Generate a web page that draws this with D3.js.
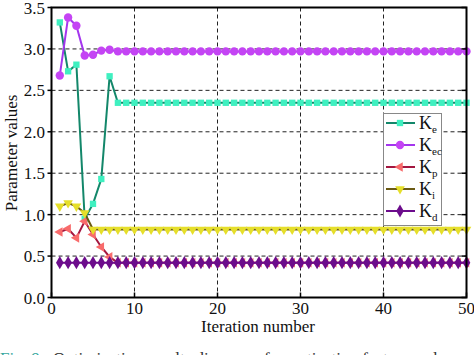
<!DOCTYPE html>
<html><head><meta charset="utf-8">
<script src="https://cdn.jsdelivr.net/npm/d3@7"></script>
<style>
html,body{margin:0;padding:0;background:#fff;}
svg{display:block;}
text{font-family:"Liberation Serif","Times New Roman",Times,serif;}
</style></head>
<body>
<svg id="chart" width="474" height="355"></svg>
<script>
const iterations = [1,2,3,4,5,6,7,8,9,10,11,12,13,14,15,16,17,18,19,20,21,22,23,24,25,26,27,28,29,30,31,32,33,34,35,36,37,38,39,40,41,42,43,44,45,46,47,48,49,50];
const Ke  = [3.32,2.73,2.81,0.95,1.13,1.43,2.67,2.35,2.35,2.35,2.35,2.35,2.35,2.35,2.35,2.35,2.35,2.35,2.35,2.35,2.35,2.35,2.35,2.35,2.35,2.35,2.35,2.35,2.35,2.35,2.35,2.35,2.35,2.35,2.35,2.35,2.35,2.35,2.35,2.35,2.35,2.35,2.35,2.35,2.35,2.35,2.35,2.35,2.35,2.35];
const Kec = [2.68,3.38,3.28,2.92,2.93,2.98,2.99,2.97,2.97,2.97,2.97,2.97,2.97,2.97,2.97,2.97,2.97,2.97,2.97,2.97,2.97,2.97,2.97,2.97,2.97,2.97,2.97,2.97,2.97,2.97,2.97,2.97,2.97,2.97,2.97,2.97,2.97,2.97,2.97,2.97,2.97,2.97,2.97,2.97,2.97,2.97,2.97,2.97,2.97,2.97];
const Kp  = [0.79,0.83,0.72,0.92,0.76,0.61,0.49,0.42,0.42,0.42,0.42,0.42,0.42,0.42,0.42,0.42,0.42,0.42,0.42,0.42,0.42,0.42,0.42,0.42,0.42,0.42,0.42,0.42,0.42,0.42,0.42,0.42,0.42,0.42,0.42,0.42,0.42,0.42,0.42,0.42,0.42,0.42,0.42,0.42,0.42,0.42,0.42,0.42,0.42,0.42];
const Ki  = [1.10,1.14,1.10,1.02,0.82,0.82,0.82,0.82,0.82,0.82,0.82,0.82,0.82,0.82,0.82,0.82,0.82,0.82,0.82,0.82,0.82,0.82,0.82,0.82,0.82,0.82,0.82,0.82,0.82,0.82,0.82,0.82,0.82,0.82,0.82,0.82,0.82,0.82,0.82,0.82,0.82,0.82,0.82,0.82,0.82,0.82,0.82,0.82,0.82,0.82];
const Kd  = [0.42,0.42,0.42,0.42,0.42,0.42,0.42,0.42,0.42,0.42,0.42,0.42,0.42,0.42,0.42,0.42,0.42,0.42,0.42,0.42,0.42,0.42,0.42,0.42,0.42,0.42,0.42,0.42,0.42,0.42,0.42,0.42,0.42,0.42,0.42,0.42,0.42,0.42,0.42,0.42,0.42,0.42,0.42,0.42,0.42,0.42,0.42,0.42,0.42,0.42];
const seriesNames = ["e","ec","p","i","d"];
const xTicks = [0,10,20,30,40,50];
const yTicks = [0.0,0.5,1.0,1.5,2.0,2.5,3.0,3.5];

const FONT = '"Liberation Serif","Times New Roman",Times,serif';
const svg = d3.select("#chart").attr("font-family",FONT);
const L = 51.5, R = 466.5, T = 7.5, B = 297.5;
const x = d3.scaleLinear().domain([0,50]).range([L,R]);
const y = d3.scaleLinear().domain([0,3.5]).range([B,T]);

// grid
const grid = svg.append("g").attr("stroke","#222").attr("stroke-width",1).attr("stroke-dasharray","4,3");
xTicks.slice(1,-1).forEach(t=>grid.append("line").attr("x1",x(t)).attr("x2",x(t)).attr("y1",T).attr("y2",B));
yTicks.slice(1,-1).forEach(t=>grid.append("line").attr("x1",L).attr("x2",R).attr("y1",y(t)).attr("y2",y(t)));

// series
const styles = [
  {data:Ke,  line:"#13876a", fill:"#3ff0c0", sym:d3.symbolSquare,  size:40, rot:0},
  {data:Kec, line:"#a436ee", fill:"#c444f4", sym:d3.symbolCircle,  size:55, rot:0},
  {data:Kp,  line:"#a3163f", fill:"#f86b6b", sym:d3.symbolTriangle,size:40, rot:-90},
  {data:Ki,  line:"#6b5a14", fill:"#e6df2a", sym:d3.symbolTriangle,size:40, rot:180},
  {data:Kd,  line:"#6c0c8c", fill:"#6c0c8c", sym:d3.symbolDiamond, size:50, rot:0}
];
const lineGen = d3.line().x((d,i)=>x(iterations[i])).y(d=>y(d));
styles.forEach(s=>{
  const g = svg.append("g");
  g.append("path").datum(s.data).attr("d",lineGen).attr("fill","none").attr("stroke",s.line).attr("stroke-width",2);
  g.selectAll("path.m").data(s.data).enter().append("path").attr("class","m")
    .attr("d",d3.symbol().type(s.sym).size(s.size))
    .attr("transform",(d,i)=>`translate(${x(iterations[i])},${y(d)}) rotate(${s.rot})`)
    .attr("fill",s.fill).attr("stroke","none");
});

// frame
svg.append("rect").attr("x",L).attr("y",T).attr("width",R-L).attr("height",B-T)
  .attr("fill","none").attr("stroke","#000").attr("stroke-width",2);

// ticks
const tk = svg.append("g").attr("stroke","#000").attr("stroke-width",1.5);
xTicks.forEach(t=>tk.append("line").attr("x1",x(t)).attr("x2",x(t)).attr("y1",B).attr("y2",B-5));
yTicks.forEach(t=>{
  tk.append("line").attr("x1",L).attr("x2",L-4).attr("y1",y(t)).attr("y2",y(t));
  tk.append("line").attr("x1",R).attr("x2",R-5).attr("y1",y(t)).attr("y2",y(t));
});

// tick labels
svg.append("g").selectAll("text").data(xTicks).enter().append("text")
  .attr("x",d=>x(d)).attr("y",314).attr("text-anchor","middle").attr("font-size",17).attr("fill","#111")
  .attr("font-family",FONT).text(d=>d);
svg.append("g").selectAll("text").data(yTicks).enter().append("text")
  .attr("x",45).attr("y",d=>y(d)+6).attr("text-anchor","end").attr("font-size",17).attr("fill","#111")
  .attr("font-family",FONT).text(d=>d.toFixed(1));

// axis titles
svg.append("text").attr("x",258).attr("y",332).attr("text-anchor","middle").attr("font-size",17).attr("fill","#111").attr("font-family",FONT).text("Iteration number");
svg.append("text").attr("transform","translate(17,153) rotate(-90)").attr("text-anchor","middle").attr("font-size",17).attr("fill","#111").attr("font-family",FONT).text("Parameter values");

// legend
const lg = svg.append("g");
lg.append("rect").attr("x",383.5).attr("y",113.5).attr("width",58).attr("height",112)
  .attr("fill","#fff").attr("stroke","#888").attr("stroke-width",1);
styles.forEach((s,i)=>{
  const yy = 123 + i*22;
  lg.append("line").attr("x1",386).attr("x2",415).attr("y1",yy).attr("y2",yy).attr("stroke",s.line).attr("stroke-width",2);
  lg.append("path").attr("d",d3.symbol().type(s.sym).size(s.size)).attr("transform",`translate(400,${yy}) rotate(${s.rot})`).attr("fill",s.fill);
  const t = lg.append("text").attr("x",419).attr("y",yy+6).attr("font-size",18).attr("fill","#111").attr("font-family",FONT);
  t.append("tspan").text("K");
  t.append("tspan").attr("dy",4).attr("font-size",11).text(seriesNames[i]);
});

// caption (cut off at bottom, as in the reference)
const cap = svg.append("text").attr("x",0).attr("y",364).attr("font-size",17).attr("fill","#333").attr("font-family",FONT);
cap.append("tspan").attr("fill","#3aa8a0").text("Fig. 9");
cap.append("tspan").attr("x",53).text("Optimization results diagram of quantization factors and parameters");
</script>
</body></html>
